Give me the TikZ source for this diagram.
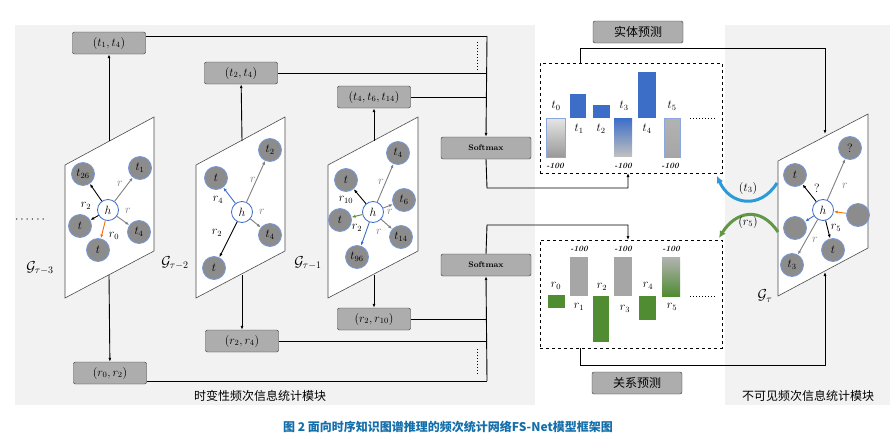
\documentclass[tikz,border=0pt]{standalone}
\usepackage{fontspec}
\newfontfamily\cjk{Noto Sans CJK SC}
\usetikzlibrary{arrows.meta,calc}
\definecolor{nodegray}{gray}{0.55}
\definecolor{boxgray}{gray}{0.68}
\definecolor{panel}{gray}{0.95}
\definecolor{bblue}{RGB}{60,110,200}
\definecolor{bgreen}{RGB}{80,140,50}
\definecolor{capblue}{RGB}{20,110,170}
\tikzset{
 lbl/.style={draw=black!80,fill=boxgray,rounded corners=2pt,minimum width=73pt,minimum height=22pt,inner sep=1pt,font=\large},
 smx/.style={lbl,minimum width=90pt,font=\footnotesize\bfseries},
 ent/.style={circle,draw=bblue!70,fill=nodegray,minimum size=23pt,inner sep=0pt,line width=0.8pt,font=\large},
 hn/.style={circle,draw=bblue,fill=white,minimum size=21pt,inner sep=0pt,line width=0.8pt,font=\large\bfseries},
 con/.style={line width=0.9pt,-{Latex[length=4pt]}},
 ed/.style={line width=0.9pt,-{Latex[length=4pt]}},
 plane/.style={draw=black!70,fill=white,line width=0.6pt},
 gl/.style={font=\large},
 neg/.style={font=\footnotesize\itshape\bfseries},
}
\begin{document}
\begin{tikzpicture}[x=1pt,y=-1pt]
\useasboundingbox (0,0) rectangle (896,447);
\fill[panel] (15,25) rectangle (535,405);
\fill[panel] (725,25) rectangle (890,405);
% parallelograms
\draw[plane] (65,165)--(154,117)--(154,251)--(65,298)--cycle;
\draw[plane] (196,165)--(285,117)--(285,251)--(196,298)--cycle;
\draw[plane] (328,165)--(418,117)--(418,251)--(328,298)--cycle;
\draw[plane] (778,161)--(868,114)--(868,248)--(778,296)--cycle;
\coordinate (p3t) at (109,141); \coordinate (p3b) at (109,275);
\coordinate (p2t) at (242,141); \coordinate (p2b) at (242,275);
\coordinate (p1t) at (374,141); \coordinate (p1b) at (374,275);
\coordinate (p0t) at (825,134); \coordinate (p0b) at (825,272);
% boxes
\node[lbl] (a1) at (109,43) {$(t_1,t_4)$};
\node[lbl] (a2) at (241,73) {$(t_2,t_4)$};
\node[lbl] (a3) at (374,97) {$(t_4,t_6,t_{14})$};
\node[lbl] (b1) at (110,373) {$(r_0,r_2)$};
\node[lbl] (b2) at (242,341) {$(r_2,r_4)$};
\node[lbl] (b3) at (374,319) {$(r_2,r_{10})$};
\node[smx] (s1) at (486,148) {Softmax};
\node[smx] (s2) at (486,265) {Softmax};
\node[lbl,minimum width=90pt,font=\cjk\large] (e1) at (638,32) {实体预测};
\node[lbl,minimum width=90pt,font=\cjk\large] (e2) at (637,383) {关系预测};
\draw[con] (p3t)--(a1); \draw[con] (p3b)--(b1);
\draw[con] (p2t)--(a2); \draw[con] (p2b)--(b2);
\draw[con] (p1t)--(a3); \draw[con] (p1b)--(b3);
\draw[line width=0.9pt] (146,36)--(487,36);
\draw[line width=0.9pt] (a2.east)--(487,73);
\draw[line width=0.9pt] (a3.east)--(487,97);
\draw[con] (487,36)--(s1.north);
\draw[line width=0.9pt] (147,381)--(487,381);
\draw[line width=0.9pt] (b2.east)--(487,341);
\draw[line width=0.9pt] (b3.east)--(487,319);
\draw[con] (487,381)--(s2.south);
\draw[dotted,line width=1pt] (477,42)--(477,70);
\draw[dotted,line width=1pt] (477,349)--(477,375);
% dashed boxes
\node[draw,dashed,line width=1pt,minimum width=182pt,minimum height=110pt,inner sep=0pt] (d1) at (631,118) {};
\node[draw,dashed,line width=1pt,minimum width=182pt,minimum height=108pt,inner sep=0pt] (d2) at (631,294) {};
\draw[con] (s1.south)--(487,188)--(628,188)--(628,173);
\draw[con] (s2.north)--(487,225)--(628,225)--(628,240);
\draw[con] (580,63)--(580,48)--(825,48)--(p0t);
\draw[con] (580,348)--(580,365)--(825,365)--(p0b);
% top bars
\shade[top color=white!90!black,bottom color=white!60!black,draw=bblue!60] (546,118) rectangle (565,157);
\fill[bblue] (570,94) rectangle (586,118);
\fill[bblue] (593,105) rectangle (610,118);
\shade[top color=bblue,bottom color=white!75!black] (614,118) rectangle (632,156);
\fill[bblue] (638,72) rectangle (656,118);
\shade[top color=white!70!black,bottom color=white!65!black,draw=bblue!60] (664,118) rectangle (680,157);
\node[gl] (lt0) at (556,106) {$t_0$};
\node[gl] (lt1) at (579,129) {$t_1$};
\node[gl] (lt2) at (601,129) {$t_2$};
\node[gl] (lt3) at (624,106) {$t_3$};
\node[gl] (lt4) at (647,129) {$t_4$};
\node[gl] (lt5) at (672,106) {$t_5$};
\node[neg] (n1) at (555,166) {-100};
\node[neg] (n2) at (623,166) {-100};
\node[neg] (n3) at (670,166) {-100};
\draw[dotted,line width=1pt] (690,118)--(715,118);
% bottom bars
\fill[bgreen] (548,295) rectangle (565,308);
\fill[white!65!black] (570,257) rectangle (588,296);
\fill[bgreen] (593,296) rectangle (609,342);
\fill[white!65!black] (614,257) rectangle (632,296);
\fill[bgreen] (639,296) rectangle (656,320);
\shade[top color=white!70!black,bottom color=bgreen] (662,257) rectangle (680,296);
\node[neg] (m1) at (579,249) {-100};
\node[neg] (m2) at (623,249) {-100};
\node[neg] (m3) at (671,249) {-100};
\node[gl] (lr0) at (556,286) {$r_0$};
\node[gl] (lr1) at (579,307) {$r_1$};
\node[gl] (lr2) at (602,287) {$r_2$};
\node[gl] (lr3) at (625,309) {$r_3$};
\node[gl] (lr4) at (648,286) {$r_4$};
\node[gl] (lr5) at (672,307) {$r_5$};
\draw[dotted,line width=1pt] (690,296)--(715,296);
% graph tau-3
\node[hn] (h3) at (108,210) {$h$};
\node[ent] (x1) at (83,174) {$t_{26}$};
\node[ent] (x2) at (140,168) {$t_1$};
\node[ent] (x3) at (80,226) {$t$};
\node[ent] (x4) at (139,232) {$t_4$};
\node[ent] (x5) at (98,250) {$t$};
\draw[ed] (h3)--(x1); \draw[ed] (h3)--(x3);
\draw[ed,orange!85!red] (h3)--(x5);
\draw[ed,gray] (h3)--(x2); \draw[ed,gray] (h3)--(x4);
\node[gl] (q1) at (86,206) {$r_2$};
\node[gl] (q2) at (114,236) {$r_0$};
\node[gl,gray] (q3) at (120,184) {$r$};
\node[gl,gray] (q4) at (128,211) {$r$};
% graph tau-2
\node[hn] (h2) at (242,212) {$h$};
\node[ent] (y1) at (216,178) {$t$};
\node[ent] (y2) at (270,150) {$t_2$};
\node[ent] (y3) at (270,235) {$t_4$};
\node[ent] (y4) at (214,268) {$t$};
\draw[ed,bblue] (h2)--(y1); \draw[ed] (h2)--(y4);
\draw[ed,gray] (h2)--(y2); \draw[ed,gray] (h2)--(y3);
\node[gl] (q5) at (218,200) {$r_4$};
\node[gl] (q6) at (217,233) {$r_2$};
\node[gl,gray] (q7) at (253,180) {$r$};
\node[gl,gray] (q8) at (262,212) {$r$};
% graph tau-1
\node[hn] (h1) at (373,212) {$h$};
\node[ent] (z1) at (346,180) {$t$};
\node[ent] (z2) at (398,153) {$t_4$};
\node[ent] (z3) at (404,200) {$t_6$};
\node[ent] (z4) at (340,220) {$t$};
\node[ent] (z5) at (401,237) {$t_{14}$};
\node[ent] (z6) at (357,257) {$t_{96}$};
\draw[ed] (h1)--(z1); \draw[ed,bgreen] (h1)--(z4); \draw[ed,bblue] (h1)--(z6);
\draw[ed,gray] (h1)--(z2); \draw[ed,gray] (h1)--(z3); \draw[ed,gray] (h1)--(z5);
\node[gl] (q9) at (346,200) {$r_{10}$};
\node[gl] (q10) at (357,228) {$r_2$};
\node[gl,gray] (q11) at (381,182) {$r$};
\node[gl,gray] (q12) at (390,212) {$r$};
\node[gl,gray] (q13) at (379,232) {$r$};
% graph tau
\node[hn] (h0) at (823,210) {$h$};
\node[ent] (w1) at (795,175) {$t$};
\node[ent] (w2) at (850,148) {$?$};
\node[ent] (w3) at (858,215) {};
\node[ent] (w4) at (795,228) {};
\node[ent] (w5) at (833,250) {$t$};
\node[ent] (w6) at (792,265) {$t_3$};
\draw[ed] (h0)--(w1); \draw[ed] (h0)--(w5);
\draw[ed,bblue] (h0)--(w4);
\draw[ed,orange!85!red] (w3)--(h0);
\draw[ed,gray] (h0)--(w2); \draw[ed,gray] (h0)--(w6);
\node[gl] (q14) at (817,188) {$?$};
\node[gl] (q15) at (836,228) {$r_5$};
\node[gl,gray] (q16) at (845,186) {$r$};
\node[gl,gray] (q17) at (815,240) {$r$};
% curved arrows
\coordinate (c1) at (777,183); \coordinate (c2) at (717,176);
\coordinate (c3) at (778,232); \coordinate (c4) at (719,238);
\draw[-{Latex[length=7pt,width=7pt]},line width=3pt,bblue!70!cyan] (c1) .. controls (760,210) and (730,205) .. (c2);
\draw[-{Latex[length=7pt,width=7pt]},line width=3pt,bgreen!90] (c3) .. controls (760,205) and (735,212) .. (c4);
\node[gl] (k1) at (748,188) {$(t_3)$};
\node[gl] (k2) at (748,222) {$(r_5)$};
% labels
\node[font=\Large] (g3) at (40,268) {$\mathcal{G}_{\tau-3}$};
\node[font=\Large] (g2) at (175,263) {$\mathcal{G}_{\tau-2}$};
\node[font=\Large] (g1) at (308,263) {$\mathcal{G}_{\tau-1}$};
\node[font=\Large] (g0) at (765,296) {$\mathcal{G}_{\tau}$};
\node[font=\large] (dl) at (30,220) {$\cdots\cdots$};
\node[font=\cjk\large] (m1t) at (260,396) {时变性频次信息统计模块};
\node[font=\cjk\large] (m2t) at (808,396) {不可见频次信息统计模块};
\node[font=\cjk\large\bfseries,text=capblue] (cap) at (448,427) {图 2 面向时序知识图谱推理的频次统计网络FS-Net模型框架图};
\end{tikzpicture}
\end{document}
